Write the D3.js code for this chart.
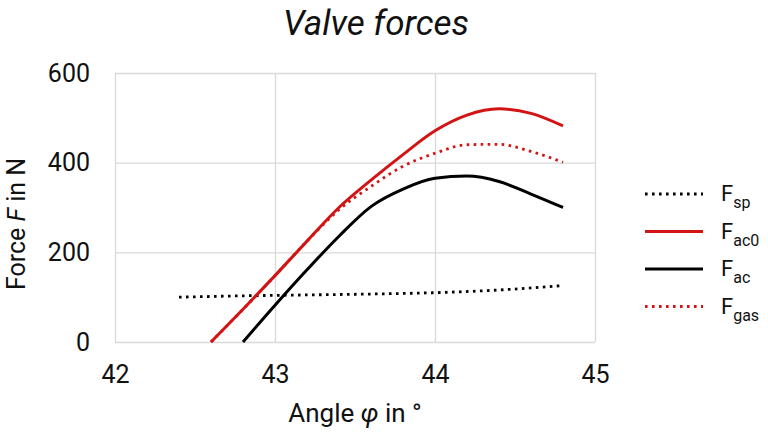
<!DOCTYPE html>
<html>
<head>
<meta charset="utf-8">
<script src="https://cdn.jsdelivr.net/npm/d3@7"></script>
<style>
  body { margin: 0; background: #fff; }
  text { font-family: Roboto, "Noto Sans", sans-serif; fill: #111; }
</style>
</head>
<body>
<div id="chart"></div>
<script>
// angle values (degrees) and forces (N)
var angleSp = [42.4, 42.8, 43.2, 43.6, 44.0, 44.4, 44.8];
var forceSp = [100, 103, 105, 107, 110, 116, 126];

var angleMain = [42.6, 42.8, 43.0, 43.2, 43.4, 43.6, 43.8, 44.0, 44.2, 44.4, 44.6, 44.8];
var forceAc0 = [0, 73, 148, 225, 300, 361, 418, 471, 506, 520, 510, 482];
var forceGas = [0, 73, 148, 225, 295, 347, 392, 421, 440, 441, 425, 401];

var angleAc = [42.8, 43.0, 43.2, 43.4, 43.6, 43.8, 44.0, 44.2, 44.4, 44.6, 44.8];
var forceAc = [0, 82, 161, 236, 302, 341, 365, 370, 358, 330, 300];

var xTicks = [42, 43, 44, 45];
var yTicks = [0, 200, 400, 600];

var margin = {top: 73, right: 173, bottom: 90, left: 115},
    width = 768 - margin.left - margin.right,
    height = 432 - margin.top - margin.bottom;

var svg = d3.select("#chart").append("svg")
    .attr("width", 768)
    .attr("height", 432);

var g = svg.append("g")
    .attr("transform", "translate(" + margin.left + "," + margin.top + ")");

var x = d3.scaleLinear().domain([42, 45]).range([0, width]);
var y = d3.scaleLinear().domain([0, 600]).range([height, 0]);

// gridlines
g.append("g")
    .call(d3.axisLeft(y).tickValues(yTicks).tickSize(-width).tickFormat(""))
    .call(function(a) { a.select(".domain").remove(); })
    .selectAll("line").attr("stroke", "#d9d9d9").attr("stroke-width", 1.3);
g.append("g")
    .attr("transform", "translate(0," + height + ")")
    .call(d3.axisBottom(x).tickValues(xTicks).tickSize(-height).tickFormat(""))
    .call(function(a) { a.select(".domain").remove(); })
    .selectAll("line").attr("stroke", "#d9d9d9").attr("stroke-width", 1.3);

// tick labels
g.append("g")
    .call(d3.axisLeft(y).tickValues(yTicks).tickSize(0).tickPadding(25))
    .call(function(a) { a.select(".domain").remove(); })
    .selectAll("text").style("font-size", "25px").attr("fill", "#111");
g.append("g")
    .attr("transform", "translate(0," + height + ")")
    .call(d3.axisBottom(x).tickValues(xTicks).tickSize(0).tickPadding(23)
        .tickFormat(d3.format("d")))
    .call(function(a) { a.select(".domain").remove(); })
    .selectAll("text").style("font-size", "25px").attr("fill", "#111");

var line = d3.line()
    .x(function(d) { return x(d[0]); })
    .y(function(d) { return y(d[1]); })
    .curve(d3.curveMonotoneX);

var series = [
    {name: "gas", a: angleMain, f: forceGas, color: "#d21414", dash: "2.6,4.4"},
    {name: "sp", a: angleSp, f: forceSp, color: "#000", dash: "2.6,4.4"},
    {name: "ac", a: angleAc, f: forceAc, color: "#000", dash: null},
    {name: "ac0", a: angleMain, f: forceAc0, color: "#d21414", dash: null}
];

series.forEach(function(s) {
    g.append("path")
        .datum(d3.zip(s.a, s.f))
        .attr("fill", "none")
        .attr("stroke", s.color)
        .attr("stroke-width", s.dash ? 2.8 : 3)
        .attr("stroke-dasharray", s.dash)
        .attr("d", line);
});

// title and axis titles
svg.append("text")
    .attr("x", 376).attr("y", 35)
    .attr("text-anchor", "middle")
    .style("font-size", "35px").style("font-style", "italic")
    .text("Valve forces");

var xt = svg.append("text")
    .attr("x", 355).attr("y", 422)
    .attr("text-anchor", "middle")
    .style("font-size", "26px");
xt.append("tspan").text("Angle ");
xt.append("tspan").style("font-style", "italic").text("φ");
xt.append("tspan").text(" in °");

var yt = svg.append("text")
    .attr("transform", "translate(25,224) rotate(-90)")
    .attr("text-anchor", "middle")
    .style("font-size", "25px");
yt.append("tspan").text("Force ");
yt.append("tspan").style("font-style", "italic").text("F");
yt.append("tspan").text(" in N");

// legend
var legend = [
    {sub: "sp", color: "#000", dash: "2.6,4.4"},
    {sub: "ac0", color: "#d21414", dash: null},
    {sub: "ac", color: "#000", dash: null},
    {sub: "gas", color: "#d21414", dash: "2.6,4.4"}
];
var lg = svg.append("g").attr("transform", "translate(645,194)");
legend.forEach(function(d, i) {
    var row = lg.append("g").attr("transform", "translate(0," + (i * 37.5) + ")");
    row.append("line")
        .attr("x1", 0).attr("x2", 58)
        .attr("stroke", d.color)
        .attr("stroke-width", d.dash ? 2.8 : 3)
        .attr("stroke-dasharray", d.dash);
    var t = row.append("text").attr("x", 76).attr("y", 7).style("font-size", "22px");
    t.append("tspan").text("F");
    t.append("tspan").attr("dy", 7).style("font-size", "16px").text(d.sub);
});
</script>
</body>
</html>
